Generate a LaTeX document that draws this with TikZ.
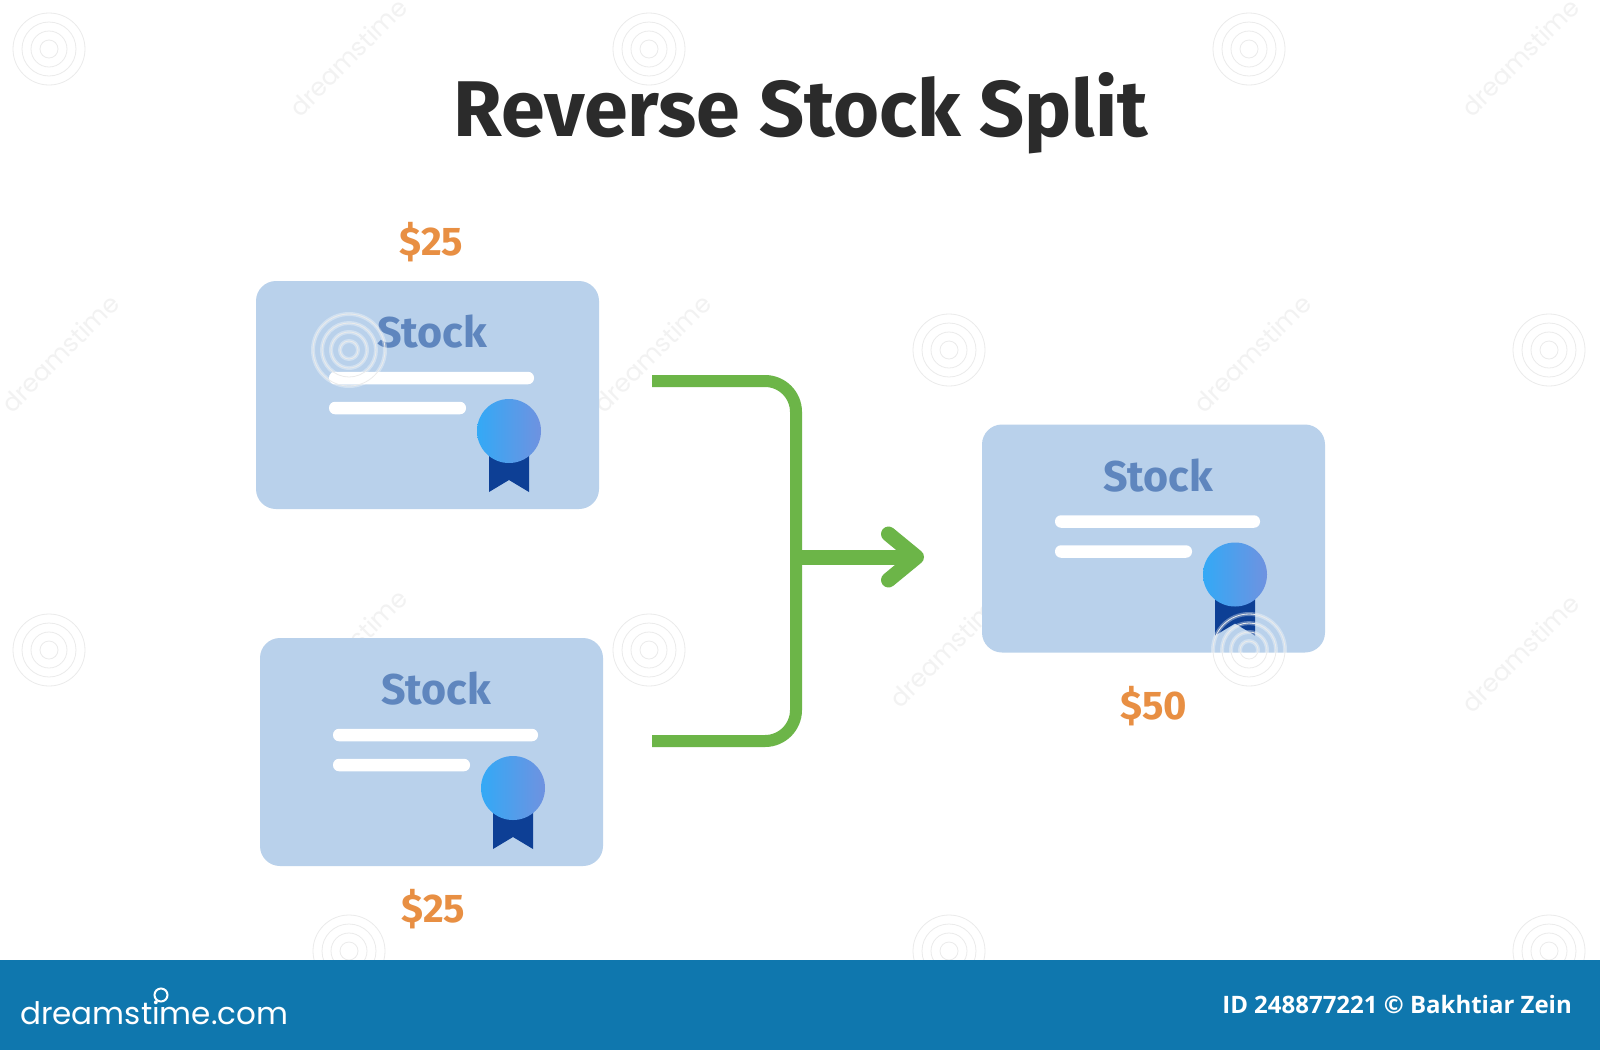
\documentclass[tikz,border=0pt]{standalone}
\usepackage{fontspec}
\setmainfont{Fira Sans}
\newfontfamily\logofont{Poppins}
\newfontfamily\idfont{Open Sans}
\usetikzlibrary{arrows.meta,positioning}
\definecolor{cardblue}{HTML}{B9D1EB}
\definecolor{stockblue}{HTML}{5F86BE}
\definecolor{priceorange}{HTML}{E88F43}
\definecolor{linkgreen}{HTML}{6CB548}
\definecolor{ribbonblue}{HTML}{0D3F95}
\definecolor{footerblue}{HTML}{0F77AE}
\definecolor{titlegrey}{HTML}{2B2B2B}
\definecolor{sealleft}{HTML}{33A9F6}
\definecolor{sealright}{HTML}{6F92E0}
\newcommand{\fsize}[1]{\fontsize{#1}{#1}\selectfont}
\tikzset{
  card/.style={fill=cardblue,rounded corners=20pt,minimum width=343pt,minimum height=228pt,inner sep=0pt},
  stocklabel/.style={font=\fsize{43}\bfseries,text=stockblue,inner sep=0pt},
  price/.style={font=\fsize{40}\bfseries,text=priceorange,inner sep=0pt},
  bar/.style={fill=white,rounded corners=6pt,minimum height=12.5pt,inner sep=0pt},
  seal/.style={circle,left color=sealleft,right color=sealright,minimum size=64pt,inner sep=0pt},
  link/.style={draw=linkgreen,line width=12pt},
  wmtext/.style={font=\logofont\fsize{25},text=black!5,rotate=45,inner sep=0pt},
  stockcard/.pic={
    \node[card] (-card) at (171.5,114) {};
    \fill[ribbonblue] (233,172) -- (273,172) -- (273,211) -- (253,199) -- (233,211) -- cycle;
    \node[stocklabel] (-label) at (176,51) {Stock};
    \node[bar,minimum width=205pt] (-bar1) at (175.5,97) {};
    \node[bar,minimum width=137pt] (-bar2) at (141.5,127) {};
    \node[seal] (-seal) at (253,150) {};
  },
  swirl/.pic={
    \foreach \r in {9,18,27,36} {
      \draw[white,line width=4pt,opacity=.35] (0,0) circle (\r pt);
      \draw[black!8,line width=.8pt] (0,0) circle (\r pt);
    }
  }
}

\begin{document}
\begin{tikzpicture}[x=1pt,y=-1pt]
          \useasboundingbox (0,0) rectangle (1600,1050);
          \fill[white] (0,0) rectangle (1600,1050);
          \node[font=\fsize{79}\bfseries,text=titlegrey,inner sep=0pt,anchor=base] (title) at (801,136) {Reverse Stock Split};

          % watermark
          \foreach \x/\y in {348/57,1520/57,60/353,652/353,1252/353,348/648,948/648,1520/653}
            \node[wmtext] at (\x,\y) {dreamstime};

          \pic (left1) at (256,281) {stockcard};
          \pic (left2) at (260,638) {stockcard};
          \pic (right) at (982,424.5) {stockcard};

          \node[price,xshift=4pt] (price1) [above=19pt of left1-card] {\$25};
          \node[price,xshift=2pt] (price2) [below=23pt of left2-card] {\$25};
          \node[price] (price3) [below=33pt of right-card] {\$50};

          \coordinate (in1) at (652,381);
          \coordinate (in2) at (652,741);
          \coordinate (merge) at (796,557);
          \coordinate (out) at (924,557);
          \draw[link,rounded corners=31pt] (in1) -| (merge) |- (in2);
          \draw[link,line width=15pt,-{Straight Barb[round,length=28pt,width=46pt]}] (merge) -- (out);

          \foreach \x/\y in {49/49,649/49,1249/49,349/350,949/350,1549/350,49/650,649/650,1249/650,349/951,949/951,1549/951}
            \pic at (\x,\y) {swirl};

          \fill[footerblue] (0,960) rectangle (1600,1050);
          \node[font=\logofont\fsize{31},text=white,inner sep=0pt,anchor=base west] (logo) at (20,1024) {dreamstime.com};
          \node[circle,draw=white,line width=2pt,minimum size=13pt,inner sep=0pt] (logomark) at (161,995) {};
          \node[font=\idfont\bfseries\fsize{24},text=white,inner sep=0pt,anchor=base east] (credit) at (1572,1013) {ID 248877221 © Bakhtiar Zein};
        \end{tikzpicture}
\end{document}
